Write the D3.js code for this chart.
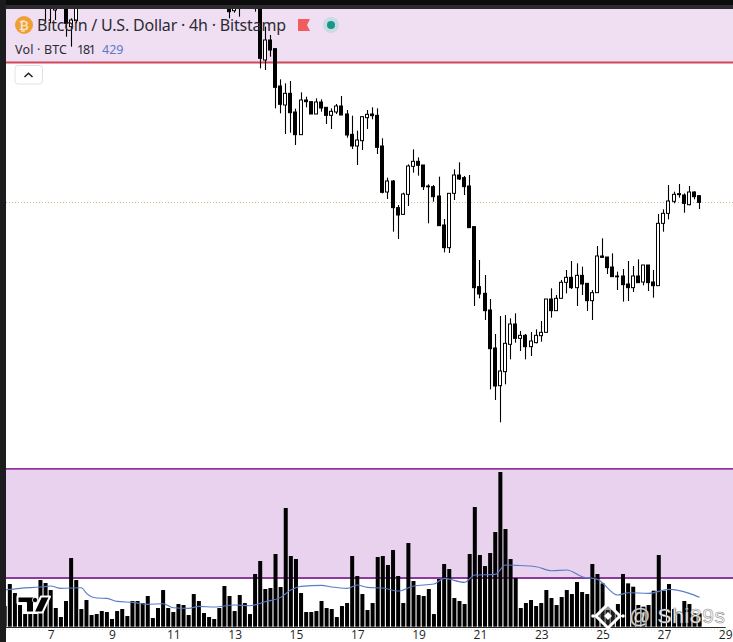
<!DOCTYPE html>
<html><head><meta charset="utf-8">
<script src="https://cdnjs.cloudflare.com/ajax/libs/d3/7.9.0/d3.min.js"></script>
<style>html,body{margin:0;padding:0;background:#fff;overflow:hidden}svg{display:block}</style>
</head><body><div id="chart"></div>
<script>
// Price values are in arbitrary chart units: the reference shows no price axis.
const candleSlots = [8,9,10,12,13,14,44,45,46,49,50,51,52,53,54,55,56,57,58,59,60,61,62,63,64,65,66,67,68,69,70,71,72,73,74,75,76,77,78,79,80,81,82,83,84,85,86,87,88,89,90,91,92,93,94,95,96,97,98,99,100,101,102,103,104,105,106,107,108,109,110,111,112,113,114,115,116,117,118,119,120,121,122,123,124,125,126,127,128,129,130,131,132,133,134,135,136];
const opens  = [1300,1290,1260,1300,1210,1228,1270,1258,1300,1300,1320,1110,1170,1144,1032,975,1010,954,886,990,985,948,984,968,944,954,972,948,887,852,868,937,948,944,852,714,747,667,647,707,791,806,795,732,730,702,615,547,710,765,757,732,610,430,410,360,246,133,175,257,318,275,284,250,262,283,293,393,358,395,443,458,427,464,440,388,412,522,519,489,462,462,438,427,462,444,495,444,433,620,650,686,706,705,676,714,703];
const highs  = [1330,1330,1300,1320,1235,1310,1290,1290,1310,1320,1330,1210,1185,1144,1052,1040,1047,964,1013,1000,985,995,992,968,965,978,1002,960,943,898,942,960,968,965,875,757,750,675,712,797,842,818,795,737,735,760,633,710,782,803,762,765,610,510,465,393,288,342,345,335,350,297,288,294,302,327,393,425,405,450,480,507,500,490,440,420,552,575,519,530,475,483,507,492,512,495,495,480,648,662,735,715,738,710,732,716,703];
const lows   = [1220,1220,1230,1180,1150,1220,1235,1252,1240,1255,1085,1080,1120,965,950,888,892,855,886,968,948,948,955,918,903,948,945,877,843,795,840,903,932,828,710,693,595,573,645,672,772,763,720,620,685,613,533,531,690,750,705,607,372,395,330,122,90,23,137,212,262,237,212,222,260,265,293,337,358,395,410,423,372,405,357,330,412,518,468,460,420,385,387,414,442,434,417,397,433,595,632,680,697,652,674,692,663];
const closes = [1275,1275,1275,1220,1230,1300,1255,1275,1290,1285,1115,1170,1140,1028,977,1010,952,886,990,985,948,984,966,944,956,972,945,885,852,870,940,947,943,848,713,747,667,645,708,792,806,794,730,730,700,613,547,710,765,753,730,607,427,408,358,244,132,177,260,318,275,284,250,267,284,293,393,358,395,443,458,427,464,438,388,412,522,518,487,460,460,436,427,462,442,495,442,433,620,650,687,707,709,680,714,700,683];

const volumes = [62,128,101,65,38,38,38,140,131,110,56,29,77,206,140,53,80,35,38,47,44,23,47,53,32,77,77,71,92,26,56,110,56,44,68,65,35,98,77,41,29,23,56,122,92,47,95,71,38,158,197,113,116,218,119,356,212,203,101,44,44,47,77,56,53,29,62,71,212,152,98,50,71,209,212,185,230,152,71,251,137,95,92,113,38,143,188,173,86,77,68,218,359,215,182,221,284,464,293,203,146,56,71,80,62,71,110,86,65,89,110,98,134,104,98,188,158,130,50,50,68,158,130,120,65,60,65,108,215,108,128,53,45,77,68,40,40];
const maSlots  = [0,3,7,9,11,15,16,18,20,22,25,28,31,33,36,38,41,45,48,51,54,56,58,62,64,67,69,71,74,77,80,84,86,90,92,96,98,100,104,107,110,113,116,120,122,126,130,134,136];
const maValues = [110,115,119,122,115,117,100,86,85,76,73,67,69,57,55,61,59,65,63,75,88,110,121,124,119,115,125,118,116,107,122,128,145,133,155,157,185,184,180,168,170,150,142,95,102,100,112,100,88];

const tickSlots  = [9,21,33,45,57,69,81,93,105,117,129,141];
const tickLabels = ["7","9","11","13","15","17","19","21","23","25","27","29"];
const legendTitle = "Bitcoin / U.S. Dollar · 4h · Bitstamp";
const legendVol = ["Vol · BTC","181","429"];
const watermark = "@ Shi89s";

const W=733,H=642;
const svg=d3.select("#chart").append("svg").attr("width",W).attr("height",H).attr("font-family","'Open Sans',sans-serif");
const x=d3.scaleLinear().domain([0,141]).range([4.7,725.2]);
const px=s=>Math.round(x(s)-0.5)+0.5;
const yPrice=d3.scaleLinear().domain([0,900]).range([430,130]);
const yVol=d3.scaleLinear().domain([0,464]).range([626.7,472]);

// panel backgrounds
svg.append("rect").attr("x",6).attr("y",9).attr("width",W-6).attr("height",53).attr("fill","#f0def2");
svg.append("rect").attr("x",6).attr("y",469).attr("width",W-6).attr("height",109).attr("fill","#e9d2ee");
svg.append("line").attr("x1",6).attr("x2",W).attr("y1",62.5).attr("y2",62.5).attr("stroke","#d0475a").attr("stroke-width",2);
svg.append("line").attr("x1",6).attr("x2",W).attr("y1",468.8).attr("y2",468.8).attr("stroke","#95369f").attr("stroke-width",1.8);
svg.append("line").attr("x1",6).attr("x2",W).attr("y1",578).attr("y2",578).attr("stroke","#8d3a9d").attr("stroke-width",2);
svg.append("line").attr("x1",6).attr("x2",W).attr("y1",202.5).attr("y2",202.5).attr("stroke","#d8b78c").attr("stroke-width",1).attr("stroke-dasharray","1 2");
svg.append("line").attr("x1",6).attr("x2",W).attr("y1",629.5).attr("y2",629.5).attr("stroke","#e2e2e2").attr("stroke-width",1).attr("stroke-dasharray","1 2");

// candles
svg.append("defs").append("clipPath").attr("id","plot").append("rect").attr("x",6).attr("y",9).attr("width",W-6).attr("height",460);
const candles=candleSlots.map((s,i)=>({s,o:opens[i],h:highs[i],l:lows[i],c:closes[i]}));
const cg=svg.append("g").attr("clip-path","url(#plot)");
const g=cg.selectAll("g").data(candles).join("g");
g.append("line").attr("x1",d=>px(d.s)).attr("x2",d=>px(d.s)).attr("y1",d=>yPrice(d.h)).attr("y2",d=>yPrice(d.l)).attr("stroke","#000").attr("stroke-width",1.1);
g.append("rect").attr("x",d=>px(d.s)-2).attr("width",3)
 .attr("y",d=>yPrice(Math.max(d.o,d.c))).attr("height",d=>Math.max(0.8,Math.abs(yPrice(d.o)-yPrice(d.c))))
 .attr("fill",d=>d.c>=d.o?"#fff":"#000").attr("stroke","#000").attr("stroke-width",1);

// axis
const axis=d3.axisBottom(x).tickValues(tickSlots).tickFormat((d,i)=>tickLabels[i]).tickSize(0).tickPadding(5);
const ax=svg.append("g").attr("transform","translate(0,627)").call(axis);
ax.select(".domain").attr("stroke","#2a2a2a").attr("stroke-width",1);
ax.selectAll("text").attr("font-family","'Open Sans',sans-serif").attr("font-size",12).attr("fill","#1f1f1f").attr("dy","0.6em");

// volume bars + MA
svg.append("g").selectAll("rect").data(volumes).join("rect")
 .attr("x",(d,i)=>x(i)-2).attr("width",4).attr("y",d=>yVol(d)).attr("height",d=>yVol(0)-yVol(d)).attr("fill","#000");
const ma=d3.line().x(d=>x(d[0])).y(d=>yVol(d[1])).curve(d3.curveMonotoneX);
svg.append("path").attr("d",ma(maSlots.map((s,i)=>[s,maValues[i]]))).attr("fill","none").attr("stroke","#5b7cc6").attr("stroke-width",1.1);

// frame
svg.append("rect").attr("x",0).attr("y",0).attr("width",W).attr("height",5).attr("fill","#0c0c0e");
svg.append("rect").attr("x",0).attr("y",5).attr("width",W).attr("height",4).attr("fill","#2b2b2d");
svg.append("rect").attr("x",0).attr("y",0).attr("width",6).attr("height",H).attr("fill","#1c1c1e");

// legend
svg.append("circle").attr("cx",24).attr("cy",25).attr("r",9).attr("fill","#ef9f36");
svg.append("text").attr("x",24).attr("y",29.5).attr("text-anchor","middle").attr("font-size",12).attr("font-weight",700).attr("fill","#fbe3bf").attr("font-family","'DejaVu Sans',sans-serif").text("₿");
svg.append("text").attr("x",37).attr("y",31).attr("font-size",16).attr("fill","#2b2b33").attr("font-family","'Noto Sans',sans-serif").attr("textLength",249).text(legendTitle);
svg.append("text").attr("x",15).attr("y",54).attr("font-size",12.5).attr("fill","#2b2b33").attr("font-family","'Noto Sans',sans-serif").attr("textLength",52).text(legendVol[0]);
svg.append("text").attr("x",77).attr("y",54).attr("font-size",12.5).attr("fill","#2b2b33").attr("font-family","'Noto Sans',sans-serif").attr("textLength",19).text(legendVol[1]);
svg.append("text").attr("x",102).attr("y",54).attr("font-size",12.5).attr("fill","#5a7cc6").attr("font-family","'Noto Sans',sans-serif").text(legendVol[2]);
svg.append("path").attr("d","M298 19H310L307 25L310 31H298Z").attr("fill","#f25c5e");
svg.append("circle").attr("cx",331).attr("cy",25).attr("r",8).attr("fill","#c9dce4");
svg.append("circle").attr("cx",331).attr("cy",25).attr("r",4).attr("fill","#17978a");
svg.append("rect").attr("x",15).attr("y",65.5).attr("width",27.5).attr("height",18.5).attr("rx",3).attr("fill","#fff").attr("stroke","#e2e2e2");
svg.append("path").attr("d","M24.5 77L28.5 73.2L32.5 77").attr("fill","none").attr("stroke","#222").attr("stroke-width",1.5);

// TradingView mark
const logo=svg.append("g").attr("fill","#000").attr("stroke","#fff").attr("stroke-width",2).attr("stroke-linejoin","round");
logo.append("path").attr("d","M17.5 596.5H34V612.5H26V603H17.5Z");
logo.append("path").attr("d","M41 596.5H50L42.5 612.5H33.5Z");
svg.append("circle").attr("cx",35).attr("cy",600).attr("r",2.6).attr("fill","#000").attr("stroke","#fff").attr("stroke-width",0.8);

// watermark
const wm=svg.append("g").attr("transform","translate(608,616)");
wm.append("path").attr("d","M0 -12L12 0L0 12L-12 0Z").attr("fill","#333").attr("fill-opacity",0.5).attr("stroke","#fff").attr("stroke-width",3);
wm.append("path").attr("d","M0 -4L4 0L0 4L-4 0Z").attr("fill","#fff");
[[-15,0],[15,0],[0,-15],[0,15]].forEach(p=>wm.append("circle").attr("cx",p[0]).attr("cy",p[1]).attr("r",1.8).attr("fill","#fff"));
svg.append("text").attr("x",629).attr("y",623).attr("font-size",21).attr("font-family","'Liberation Sans',sans-serif").attr("fill","#fff").attr("stroke","#8f8f8f").attr("stroke-width",0.6).attr("textLength",96).text(watermark);
</script></body></html>
